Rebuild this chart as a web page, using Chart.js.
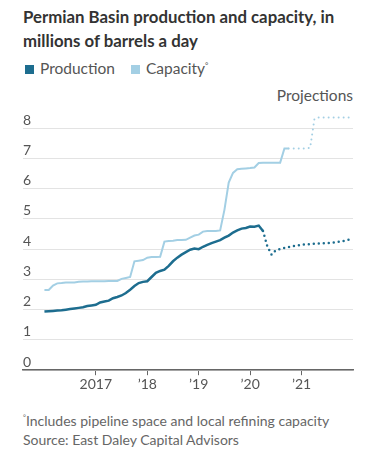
<!DOCTYPE html>
<html>
<head>
<meta charset="utf-8">
<script src="https://cdn.jsdelivr.net/npm/chart.js@4.4.0/dist/chart.umd.min.js"></script>
<style>
  body { margin: 0; background: #fff; width: 368px; height: 450px; overflow: hidden; font-family: Lato, "Noto Sans", sans-serif; }
  .title { position: absolute; left: 23px; top: 5px; width: 345px; font-weight: bold; font-size: 16.8px; line-height: 24px; color: #333; }
  .legend { position: absolute; left: 25px; top: 59px; font-size: 15.5px; color: #555; white-space: nowrap; }
  .legend span.sw { display: inline-block; width: 9px; height: 9px; margin-right: 6px; vertical-align: 0px; }
  .legend sup { font-size: 8px; }
  .proj { position: absolute; right: 15px; top: 86px; font-size: 15.5px; color: #555; }
  .note { position: absolute; left: 23px; top: 408px; font-size: 14px; line-height: 19px; color: #666; white-space: nowrap; }
  .note sup { font-size: 7px; }
  #wrap { position: absolute; left: 0; top: 100px; width: 368px; height: 294px; }
</style>
</head>
<body>
<div class="title">Permian Basin production and capacity, in millions of barrels a day</div>
<div class="legend"><span class="sw" style="background:#1d6d8f"></span>Production <span class="sw" style="background:#a3cfe4;margin-left:12px"></span>Capacity<sup>°</sup></div>
<div class="proj">Projections</div>
<div id="wrap"><canvas id="chart"></canvas></div>
<div class="note"><sup>°</sup>Includes pipeline space and local refining capacity<br>Source: East Daley Capital Advisors</div>
<script>
// months counted from Jan 2016
const months = Array.from({ length: 72 }, (_, i) => i);

const production = [
  1.94, 1.95, 1.96, 1.97, 1.98, 2.00, 2.02, 2.04, 2.06, 2.08, 2.12, 2.14,
  2.16, 2.24, 2.27, 2.30, 2.38, 2.42, 2.47, 2.55, 2.66, 2.78, 2.88, 2.92,
  2.94, 3.08, 3.22, 3.28, 3.32, 3.45, 3.60, 3.72, 3.82, 3.90, 3.98, 4.02,
  4.00, 4.08, 4.14, 4.20, 4.25, 4.30, 4.38, 4.45, 4.55, 4.62, 4.68, 4.70,
  4.75, 4.74, 4.78, 4.60, 4.10, 3.82, 3.97, 4.00, 4.04, 4.07, 4.10, 4.12,
  4.14, 4.16, 4.17, 4.18, 4.19, 4.19, 4.20, 4.21, 4.23, 4.25, 4.28, 4.31
];

const capacity = [
  2.65, 2.65, 2.80, 2.87, 2.88, 2.90, 2.90, 2.90, 2.92, 2.93, 2.93, 2.94,
  2.94, 2.94, 2.94, 2.95, 2.95, 2.95, 3.02, 3.05, 3.08, 3.60, 3.62, 3.64,
  3.72, 3.74, 3.74, 3.75, 4.25, 4.27, 4.28, 4.30, 4.30, 4.31, 4.38, 4.45,
  4.48, 4.58, 4.60, 4.60, 4.60, 4.62, 5.30, 6.20, 6.52, 6.64, 6.66, 6.67,
  6.68, 6.70, 6.85, 6.86, 6.86, 6.86, 6.86, 6.86, 7.33, 7.33, 7.33, 7.33,
  7.33, 7.33, 7.35, 8.30, 8.35, 8.35, 8.35, 8.35, 8.35, 8.35, 8.35, 8.35
];

// index where the dotted projection begins
const productionProjStart = 51;
const capacityProjStart = 57;

const tickMonths = [12, 24, 36, 48, 60];
const tickLabels = ['2017', '\u201918', '\u201919', '\u201920', '\u201921'];

function pairs(values) {
  return months.map((m, i) => ({ x: m, y: values[i] }));
}

function dotted(start) {
  return {
    borderDash: ctx => ctx.p0DataIndex >= start ? [0, 5] : undefined,
    borderCapStyle: ctx => ctx.p0DataIndex >= start ? 'round' : 'butt'
  };
}

Chart.defaults.font.family = 'Lato, "Noto Sans", sans-serif';

new Chart(document.getElementById('chart'), {
  type: 'line',
  data: {
    datasets: [
      {
        label: 'Production',
        data: pairs(production),
        borderColor: '#1d6d8f',
        borderWidth: 2.5,
        pointRadius: 0,
        segment: dotted(productionProjStart)
      },
      {
        label: 'Capacity',
        data: pairs(capacity),
        borderColor: '#a3cfe4',
        borderWidth: 2,
        pointRadius: 0,
        segment: dotted(capacityProjStart)
      }
    ]
  },
  options: {
    responsive: true,
    maintainAspectRatio: false,
    animation: false,
    layout: { padding: { left: 23, right: 15, top: 10, bottom: 0 } },
    plugins: { legend: { display: false }, tooltip: { enabled: false } },
    scales: {
      x: {
        type: 'linear',
        min: -5,
        max: 72,
        afterBuildTicks: axis => { axis.ticks = tickMonths.map(v => ({ value: v })); },
        ticks: {
          autoSkip: false,
          maxRotation: 0,
          padding: 1,
          color: '#555',
          font: { size: 14 },
          callback: v => tickLabels[tickMonths.indexOf(v)]
        },
        grid: { drawOnChartArea: false, drawTicks: true, tickLength: 5, color: '#666', lineWidth: 1 },
        border: { color: '#666', width: 1.5 }
      },
      y: {
        min: 0,
        max: 8.6,
        afterBuildTicks: axis => { axis.ticks = [0, 1, 2, 3, 4, 5, 6, 7, 8].map(v => ({ value: v })); },
        ticks: {
          mirror: true,
          padding: 0,
          labelOffset: -8,
          color: '#555',
          font: { size: 14 }
        },
        grid: { drawTicks: false, color: '#e3e3e3', lineWidth: 1 },
        border: { display: false }
      }
    }
  }
});
</script>
</body>
</html>
